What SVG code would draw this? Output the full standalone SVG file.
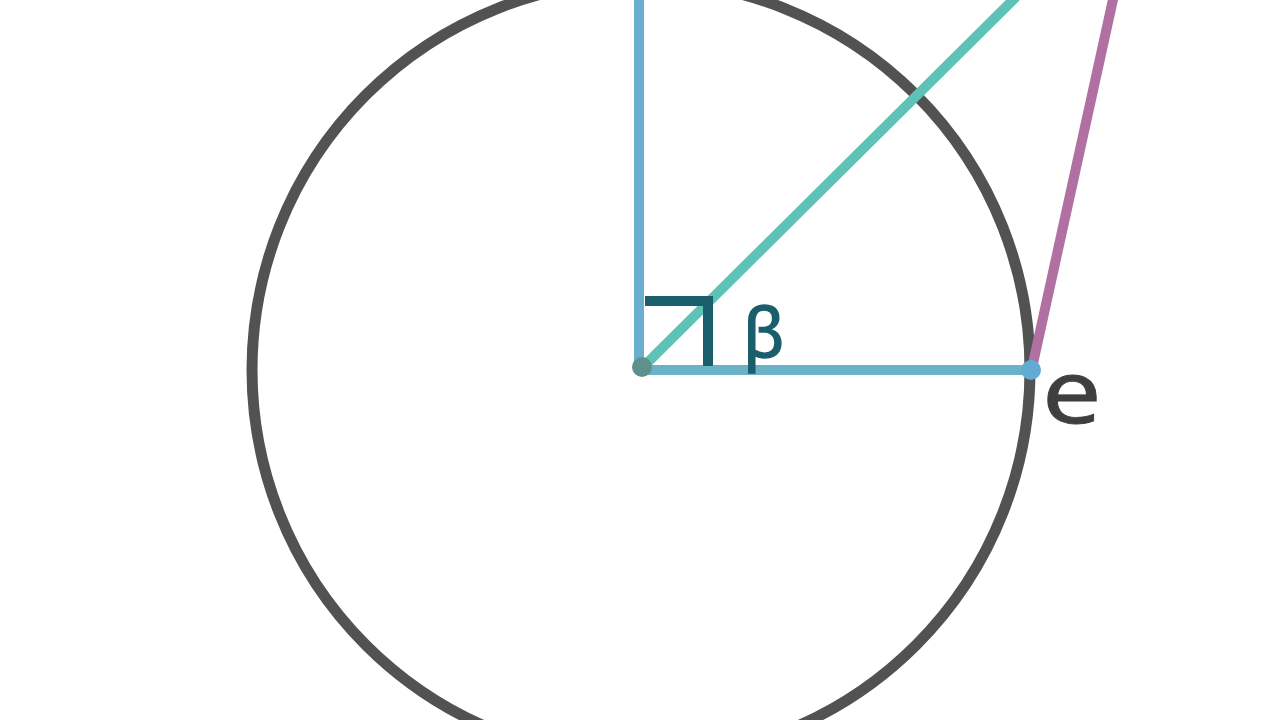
<svg xmlns="http://www.w3.org/2000/svg" width="1280" height="720" viewBox="0 0 1280 720">
<style>
.ln{fill:none;stroke-width:10;stroke-linecap:butt}
.lbl{font-family:"Noto Sans","Open Sans",sans-serif}
</style>
<rect width="1280" height="720" fill="#ffffff"/>
<g id="circle"><circle cx="641" cy="370" r="389" fill="none" stroke="#525252" stroke-width="11"/></g>
<g id="connectors">
<line class="ln" x1="639" y1="-5" x2="639" y2="370" stroke="#6aaed0"/>
<line class="ln" x1="640" y1="370" x2="1032" y2="370" stroke="#6ab2c8"/>
<line class="ln" x1="640" y1="370" x2="1016" y2="-3" stroke="#5ec2b6"/>
<line class="ln" x1="1032" y1="368" x2="1114" y2="-5" stroke="#b070a2"/>
<polyline class="ln" points="645,301 708,301 708,366" stroke="#1b5e6b" stroke-width="8"/>
</g>
<g id="center"><circle cx="642" cy="367" r="10" fill="#5d918c"/></g>
<g id="point-e"><circle cx="1031" cy="370" r="10" fill="#62acd4"/>
<text class="lbl" transform="translate(1042,423) scale(1.2,1)" font-size="88" fill="#3f3f3f" stroke="#3f3f3f" stroke-width="0.8">e</text></g>
<g id="beta"><text class="lbl" x="743" y="357" font-size="68" fill="#1b5e6b" stroke="#1b5e6b" stroke-width="1.5">β</text></g>
</svg>
